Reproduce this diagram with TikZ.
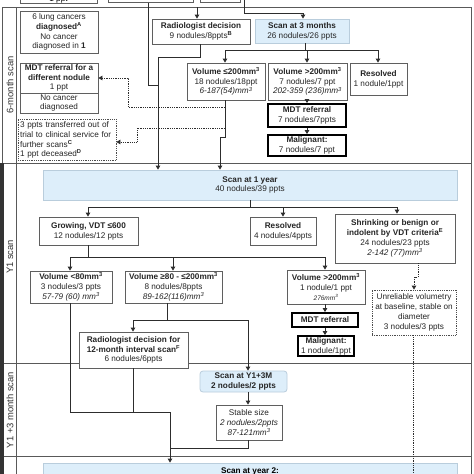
\documentclass[tikz,border=0pt]{standalone}
\usepackage{fontspec}
\setmainfont{Liberation Sans}
\usetikzlibrary{arrows.meta}
\definecolor{scanfill}{RGB}{221,238,250}
\definecolor{scanline}{RGB}{185,205,220}
\definecolor{boxline}{RGB}{95,95,95}
\definecolor{ln}{RGB}{45,45,45}
\newcommand\mybox[7]{\node[#2, minimum width={#5-#3}, minimum height={#6-#4}] (#1) at ({(#3+#5)/2},{(#4+#6)/2}) {#7};}
\newcommand\sups[1]{\textsuperscript{\textbf{#1}}}
\newcommand\cub{\textsuperscript{3}}
\begin{document}
\begin{tikzpicture}[x=1pt,y=-1pt, font=\fontsize{8.2}{9.8}\selectfont,
 box/.style={draw=boxline, fill=white, line width=0.8pt, align=center, inner sep=0pt, text=black!85},
 thickbox/.style={box, draw=black, line width=1.8pt},
 scanbox/.style={box, draw=scanline, fill=scanfill},
 dotbox/.style={box, densely dotted, draw=black!70},
 conn/.style={draw=ln, line width=0.8pt},
 arr/.style={conn, -{Triangle[length=4pt,width=4.5pt]}},
 dotarr/.style={arr, densely dotted},
 dotline/.style={conn, densely dotted},
 divider/.style={draw=black!65, line width=0.8pt},
 rowlab/.style={rotate=90, font=\fontsize{9.4}{11}\selectfont, text=black!80}]
\useasboundingbox (0,0) rectangle (474,474);
\clip (0,0) rectangle (474,474);
% frame
\fill[white] (0,0) rectangle (474,474);
\draw[divider] (2,7) -- (471,7);
\draw[divider] (2,163) -- (471,163);
\draw[divider] (2,363) -- (471,363);
\draw[divider] (2,456) -- (471,456);
\draw[divider] (16,7) -- (16,474);
\draw[divider] (471,7) -- (471,474);
\draw[divider] (2.5,7) -- (2.5,163);
\fill[black!80] (0,163) rectangle (3.5,474);
\node[rowlab] (lab6) at (10,85) {6-month scan};
\node[rowlab] (lab1) at (10,257) {Y1 scan};
\node[rowlab] (lab3) at (10,410) {Y1 +3 month scan};
% top strip
\mybox{top1}{box}{20}{-8}{97}{3}{}
\node[inner sep=0pt] (top1t) at (58.5,0) {1 ppt};
\mybox{top2}{box}{108}{-8}{193}{2.5}{}
\mybox{top3}{box}{200}{-8}{240}{2.5}{}
% 6-month row
\mybox{canc}{box}{20}{11}{98}{53}{6 lung cancers\\\textbf{diagnosed}\sups{A}\\No cancer\\diagnosed in \textbf{1}}
\mybox{mdtd}{box}{20}{63}{98}{93}{\textbf{MDT referral for a}\\\textbf{different nodule}\\1 ppt}
\mybox{nocan}{box}{20}{93}{98}{113}{No cancer\\diagnosed}
\node[dotbox, align=left, minimum width=98pt, minimum height=40pt, inner sep=2pt, text width=94pt] (trans) at (67,140) {3 ppts transferred out of\\trial to clinical service for\\further scans\sups{C}\\1 ppt deceased\sups{D}};
\mybox{rad1}{box}{152}{19}{250}{44}{\textbf{Radiologist decision}\\9 nodules/8ppts\sups{B}}
\mybox{scan3}{scanbox}{255}{19}{349}{43}{\textbf{Scan at 3 months}\\26 nodules/26 ppts}
\mybox{vle}{box}{187}{63}{265}{100}{\textbf{Volume ≤200mm\cub}\\18 nodules/18ppt\\\textit{6-187(54)mm\cub}}
\mybox{vgt}{box}{268}{63}{347}{100}{\textbf{Volume >200mm\cub}\\7 nodules/7 ppt\\\textit{202-359 (236)mm\cub}}
\mybox{res1}{box}{350}{63}{407}{95}{\textbf{Resolved}\\1 nodule/1ppt}
\mybox{mdt1}{thickbox}{268}{104}{346}{127}{\textbf{MDT referral}\\7 nodules/7ppts}
\mybox{mal1}{thickbox}{268}{135}{346}{156}{\textbf{Malignant:}\\7 nodules/7 ppt}
% Y1 row
\mybox{scan1}{scanbox}{43}{170}{457}{200}{\textbf{Scan at 1 year}\\40 nodules/39 ppts}
\mybox{grow}{box}{39}{217}{138}{245}{\textbf{Growing, VDT ≤600}\\12 nodules/12 ppts}
\mybox{res2}{box}{250}{217}{316}{245}{\textbf{Resolved}\\4 nodules/4ppts}
\mybox{shr}{box}{335}{214}{455}{263}{\textbf{Shrinking or benign or}\\\textbf{indolent by VDT criteria}\sups{E}\\24 nodules/23 ppts\\\textit{2-142 (77)mm\cub}}
\mybox{vlt}{box}{30}{271}{112}{303}{\textbf{Volume <80mm\cub}\\3 nodules/3 ppts\\\textit{57-79 (60) mm\cub}}
\mybox{vmid}{box}{125}{271}{222}{303}{\textbf{Volume ≥80 - ≤200mm\cub}\\8 nodules/8ppts\\\textit{89-162(116)mm\cub}}
\mybox{vgt2}{box}{287}{270}{365}{304}{\textbf{Volume >200mm\cub}\\1 nodule/1 ppt\\{\fontsize{6.5}{8}\selectfont\textit{276mm\cub}}}
\mybox{mdt2}{thickbox}{292}{313}{358}{327}{\textbf{MDT referral}}
\mybox{mal2}{thickbox}{298}{336}{354}{356}{\textbf{Malignant:}\\1 nodule/1ppt}
\mybox{unr}{dotbox}{372}{290}{456}{335}{Unreliable volumetry\\at baseline, stable on\\diameter\\3 nodules/3 ppts}
\mybox{rad12}{box}{79}{332}{188}{368}{\textbf{Radiologist decision for}\\\textbf{12-month interval scan}\sups{F}\\6 nodules/6ppts}
% Y1+3M row
\node[scanbox, rounded corners=3pt, minimum width=87pt, minimum height=21pt] (scany) at (243.5,381.5) {\textbf{Scan at Y1+3M}\\\textbf{2 nodules/2 ppts}};
\mybox{stab}{box}{216}{405}{282}{440}{Stable size\\\textit{2 nodules/2ppts}\\\textit{87-121mm\cub}}
% year 2
\mybox{scan2}{scanbox}{43}{463}{457}{495}{}
\node[inner sep=0pt, font=\fontsize{8.2}{9.8}\selectfont\bfseries] (scan2t) at (250,471) {Scan at year 2:};
% coordinates
\coordinate (t197) at (197,7);
\coordinate (t244) at (244,0);
\coordinate (bot) at (413,480);
% connectors top
\draw[arr] (t197) -- (t197 |- rad1.north);
\draw[arr] (t244) -- (244,13) -- (303,13) -- (303,0 |- scan3.north);
\draw[conn] (148,0 |- top2.south) -- (148,85) -- (158,85);
% 6-month connectors
\draw[conn] (200,0 |- rad1.south) -- (200,57) -- (158,57);
\draw[arr] (158,57) -- (158,0 |- scan1.north);
\draw[conn] (305,0 |- scan3.south) -- (305,50);
\draw[conn] (225,50) -- (378,50);
\draw[arr] (225,50) -- (225,0 |- vle.north);
\draw[arr] (307,50) -- (307,0 |- vgt.north);
\draw[arr] (378,50) -- (378,0 |- res1.north);
\draw[arr] (307,0 |- vgt.south) -- (307,0 |- mdt1.north);
\draw[arr] (307,0 |- mdt1.south) -- (307,0 |- mal1.north);
\draw[conn] (225,0 |- vle.south) -- (225,137) -- (220,137);
\draw[arr] (220,137) -- (220,0 |- scan1.north);
\draw[dotarr] (225,107) -- (128,107) -- (128,78) -- (mdtd.east |- 0,78);
\draw[dotarr] (225,128) -- (137,128) -- (137,142) -- (trans.east |- 0,142);
% Y1 connectors
\draw[conn] (250,0 |- scan1.south) -- (250,207);
\draw[conn] (88,207) -- (397,207);
\draw[arr] (88,207) -- (88,0 |- grow.north);
\draw[arr] (283,207) -- (283,0 |- res2.north);
\draw[arr] (397,207) -- (397,0 |- shr.north);
\draw[conn] (88,0 |- grow.south) -- (88,257);
\draw[conn] (70,257) -- (325,257);
\draw[arr] (70,257) -- (70,0 |- vlt.north);
\draw[arr] (173,257) -- (173,0 |- vmid.north);
\draw[arr] (325,257) -- (325,0 |- vgt2.north);
\draw[arr] (325,0 |- vgt2.south) -- (325,0 |- mdt2.north);
\draw[arr] (325,0 |- mdt2.south) -- (325,0 |- mal2.north);
\draw[dotline] (418,0 |- shr.south) -- (418,277) -- (414,277);
\draw[dotarr] (414,277) -- (414,0 |- unr.north);
\draw[dotline] (413,0 |- unr.south) -- (bot);
\draw[conn] (167,0 |- vmid.south) -- (167,320);
\draw[conn] (133,320) -- (248,320);
\draw[arr] (133,320) -- (133,0 |- rad12.north);
\draw[arr] (248,320) -- (248,0 |- scany.north);
% Y1+3M connectors
\draw[arr] (248,0 |- scany.south) -- (248,0 |- stab.north);
\draw[conn] (248,0 |- stab.south) -- (248,448) -- (170,448);
\draw[conn] (70,0 |- vlt.south) -- (70,412) -- (170,412);
\draw[conn] (133,0 |- rad12.south) -- (133,412);
\draw[arr] (170,412) -- (170,0 |- scan2.north);
\end{tikzpicture}
\end{document}
